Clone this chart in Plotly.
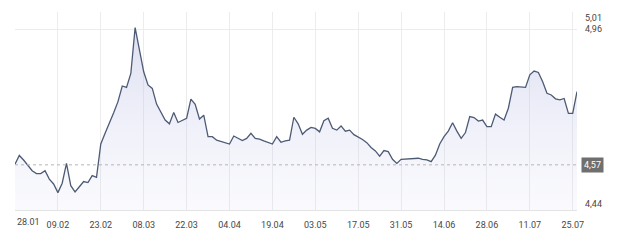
import plotly.graph_objects as go

# values (one per trading day)
values = [
    4.572, 4.597, 4.584, 4.568, 4.553, 4.545, 4.545, 4.553, 4.529, 4.515,
    4.490, 4.517, 4.574, 4.510, 4.492, 4.507, 4.522, 4.519, 4.539, 4.534,
    4.630, 4.661, 4.689, 4.720, 4.752, 4.797, 4.793, 4.833, 4.965, 4.901,
    4.838, 4.800, 4.790, 4.745, 4.723, 4.699, 4.688, 4.721, 4.692, 4.697,
    4.704, 4.759, 4.744, 4.702, 4.713, 4.651, 4.651, 4.641, 4.637, 4.635,
    4.630, 4.653, 4.646, 4.640, 4.646, 4.661, 4.646, 4.644, 4.639, 4.635,
    4.630, 4.651, 4.635, 4.639, 4.641, 4.707, 4.688, 4.658, 4.670, 4.678,
    4.675, 4.665, 4.697, 4.704, 4.675, 4.670, 4.682, 4.667, 4.670, 4.657,
    4.651, 4.643, 4.634, 4.620, 4.610, 4.595, 4.611, 4.608, 4.586, 4.574,
    4.586, 4.587, 4.586, 4.587, 4.589, 4.586, 4.584, 4.579, 4.598, 4.630,
    4.651, 4.667, 4.691, 4.667, 4.646, 4.663, 4.709, 4.706, 4.696, 4.699,
    4.680, 4.680, 4.716, 4.707, 4.699, 4.733, 4.793, 4.795, 4.793, 4.793,
    4.829, 4.840, 4.836, 4.809, 4.776, 4.771, 4.760, 4.757, 4.761, 4.718,
    4.718, 4.781,
]
tick_labels = ["28.01", "09.02", "23.02", "08.03", "22.03", "04.04", "19.04",
               "03.05", "17.05", "31.05", "14.06", "28.06", "11.07", "25.07"]
tick_step = 10
y_min, y_max = 4.44, 5.01
y_grid = [4.44, 4.96, 5.01]
ref_value = 4.57
ref_label = "4,57"
y_labels = ["5,01", "4,96", "4,44"]

x = list(range(len(values)))
tick_pos = [i * tick_step for i in range(len(tick_labels))]

FONT = "Roboto, Arial, sans-serif"
TXT = "#474747"

fig = go.Figure()
fig.add_trace(go.Scatter(
    x=x, y=values, mode="lines",
    line=dict(color="#4d5a74", width=1.3),
    fill="tozeroy",
    fillgradient=dict(
        type="vertical", start=y_min, stop=4.97,
        colorscale=[[0, "rgba(205,208,238,0.10)"], [1, "rgba(170,176,222,0.40)"]],
    ),
    hoverinfo="skip", showlegend=False,
))

fig.add_shape(type="line", xref="paper", yref="y", x0=0, x1=1,
              y0=ref_value, y1=ref_value,
              line=dict(color="#b5b5b5", width=1, dash="dot"))

# right-side value labels
fig.add_annotation(x=1, xref="paper", y=5.01, yref="y", text=y_labels[0],
                   showarrow=False, xanchor="left", yanchor="top", xshift=6, yshift=1,
                   font=dict(family=FONT, size=9, color=TXT))
fig.add_annotation(x=1, xref="paper", y=4.96, yref="y", text=y_labels[1],
                   showarrow=False, xanchor="left", yanchor="middle", xshift=6,
                   font=dict(family=FONT, size=9, color=TXT))
fig.add_annotation(x=1, xref="paper", y=4.44, yref="y", text=y_labels[2],
                   showarrow=False, xanchor="left", yanchor="bottom", xshift=6, yshift=-1,
                   font=dict(family=FONT, size=9, color=TXT))
fig.add_annotation(x=1, xref="paper", y=ref_value, yref="y", text=ref_label,
                   showarrow=False, xanchor="left", yanchor="middle", xshift=4,
                   bgcolor="#6f6f6f", borderpad=2,
                   font=dict(family=FONT, size=9, color="#ffffff"))
# first x label, kept inside the plot edge
fig.add_annotation(x=tick_pos[0], xref="x", y=0, yref="paper", text=tick_labels[0],
                   showarrow=False, xanchor="left", yanchor="middle", yshift=-11.5,
                   font=dict(family=FONT, size=9, color=TXT))

fig.update_layout(
    width=624, height=241,
    margin=dict(l=15, r=47, t=12, b=31),
    paper_bgcolor="white", plot_bgcolor="white",
    font=dict(family=FONT, size=9, color=TXT),
    xaxis=dict(
        range=[0, len(values) - 1],
        tickmode="array", tickvals=tick_pos,
        ticktext=[""] + tick_labels[1:],
        showgrid=True, gridcolor="#ececec", gridwidth=1,
        zeroline=False, showline=True, linecolor="#e3e3e3",
        ticks="", ticklen=0, ticklabelstandoff=6,
        tickfont=dict(family=FONT, size=9, color=TXT),
    ),
    yaxis=dict(
        range=[y_min, y_max],
        tickmode="array", tickvals=y_grid,
        showticklabels=False,
        showgrid=True, gridcolor="#ececec", gridwidth=1,
        zeroline=False, showline=False,
    ),
)

fig.write_html("out.html")
